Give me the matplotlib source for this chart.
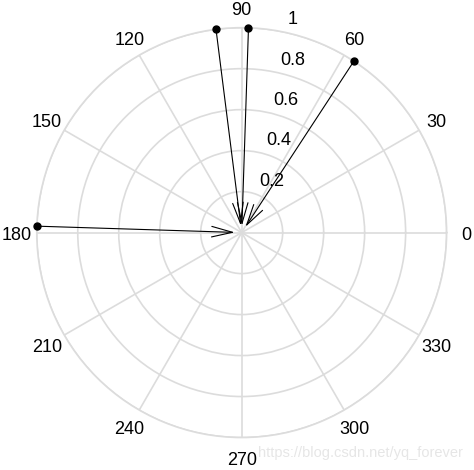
import numpy as np
import matplotlib
matplotlib.use("Agg")
from matplotlib import pyplot as plt
from matplotlib.transforms import ScaledTranslation

plt.rcParams['font.family'] = ['Liberation Sans', 'DejaVu Sans']

# vector angles (degrees) and magnitudes
sudut = [97.2, 88.1, 56.8, 178.2]
besar = [1.0, 1.0, 1.0, 1.0]
r_ticks = [0.2, 0.4, 0.6, 0.8, 1.0]
r_labels = ['0.2', '0.4', '0.6', '0.8', '1']
theta_ticks = list(range(0, 360, 30))

fig = plt.figure(figsize=(4.74, 4.70), dpi=100)
ax = fig.add_axes([0.0774, 0.0691, 0.865, 0.872], projection='polar')
grid_col = '#dcdcdc'

ax.set_ylim(0, 1)
ax.set_rticks(r_ticks)
ax.set_yticklabels([])
ax.set_thetagrids(theta_ticks, ['' for t in theta_ticks])
ax.grid(True, color=grid_col, linewidth=1.2)
ax.spines['polar'].set_color(grid_col)
ax.spines['polar'].set_linewidth(1.2)

# angle labels: 20 px outside the circle, nudged 2.5 px down
for t in theta_ticks:
    dx = 20 * np.cos(np.deg2rad(t)) / 100
    dy = (20 * np.sin(np.deg2rad(t)) - 2.5) / 100
    tr = ax.transData + ScaledTranslation(dx, dy, fig.dpi_scale_trans)
    ax.text(np.deg2rad(t), 1, str(t), transform=tr, ha='center', va='center',
            fontsize=13, clip_on=False)

# radial labels placed at 80 deg, shifted a little to the right/up
off = ax.transData + ScaledTranslation(10/100, 11/100, fig.dpi_scale_trans)
for r, lab in zip(r_ticks, r_labels):
    ax.text(np.deg2rad(80), r, lab, transform=off, ha='left', va='center', fontsize=13)

for a, m in zip(sudut, besar):
    th = np.deg2rad(a)
    ax.annotate('', xy=(th, 0), xytext=(th, m),
                arrowprops=dict(arrowstyle='->,head_length=1.5,head_width=0.38',
                                color='black', lw=0.8, shrinkA=0, shrinkB=5))
    ax.plot([th], [m], 'o', color='black', markersize=5, clip_on=False, zorder=5)

fig.text(0.76, 0.036, 'https://blog.csdn.net/yq_forever', color='#e6e6e6',
         fontsize=10.5, ha='center', va='center')

fig.savefig('out.png', dpi=100)
